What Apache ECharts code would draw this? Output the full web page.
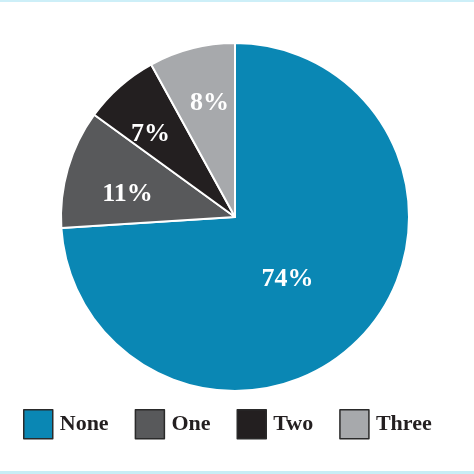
<!DOCTYPE html>
<html><head><meta charset="utf-8">
<script src="https://cdn.jsdelivr.net/npm/echarts@6/dist/echarts.min.js"></script>
<style>html,body{margin:0;padding:0;background:#fff}#c{width:474px;height:474px}</style>
</head><body><div id="c"></div>
<script>
const categories = ['None', 'One', 'Two', 'Three'];
const values = [74, 11, 7, 8];
const colors = ['#0a87b4', '#58595b', '#231f20', '#a7a9ac'];
// small label nudges (px) from the default 'inside' spot
const labelNudgeX = [-13, -21, -25, -3];
const labelNudgeY = [1, 2, -15, -27];

const FONT = 'Liberation Serif';
const data = categories.map((n, i) => ({ name: n, value: values[i], itemStyle: { color: colors[i] } }));

const chart = echarts.init(document.getElementById('c'), null, { renderer: 'canvas' });
chart.setOption({
  animation: false,
  color: colors,
  graphic: [
    { type: 'rect', left: 0, top: 0, shape: { width: 474, height: 2 }, style: { fill: '#cdeff8' } },
    { type: 'rect', left: 0, top: 471, shape: { width: 474, height: 3 }, style: { fill: '#c8edf5' } }
  ],
  legend: {
    data: categories,
    left: 23, top: 409, padding: 0,
    itemWidth: 29, itemHeight: 29, itemGap: 26,
    icon: 'rect',
    itemStyle: { borderColor: '#2a2a2a', borderWidth: 1.5 },
    textStyle: { fontFamily: FONT, fontWeight: 'bold', fontSize: 22, color: '#231f20', padding: [0, 0, 0, 2] },
    selectedMode: false
  },
  series: [
    {
      type: 'pie', center: [235, 217], radius: 174, startAngle: 90, clockwise: true,
      itemStyle: { borderColor: '#fff', borderWidth: 2 },
      label: { show: true, position: 'inside', formatter: '{c}%', color: '#fff', fontFamily: FONT, fontWeight: 'bold', fontSize: 26 },
      labelLine: { show: false },
      labelLayout: p => ({ dx: labelNudgeX[p.dataIndex], dy: labelNudgeY[p.dataIndex] }),
      emphasis: { disabled: true },
      data: data
    }
  ]
});
</script></body></html>
